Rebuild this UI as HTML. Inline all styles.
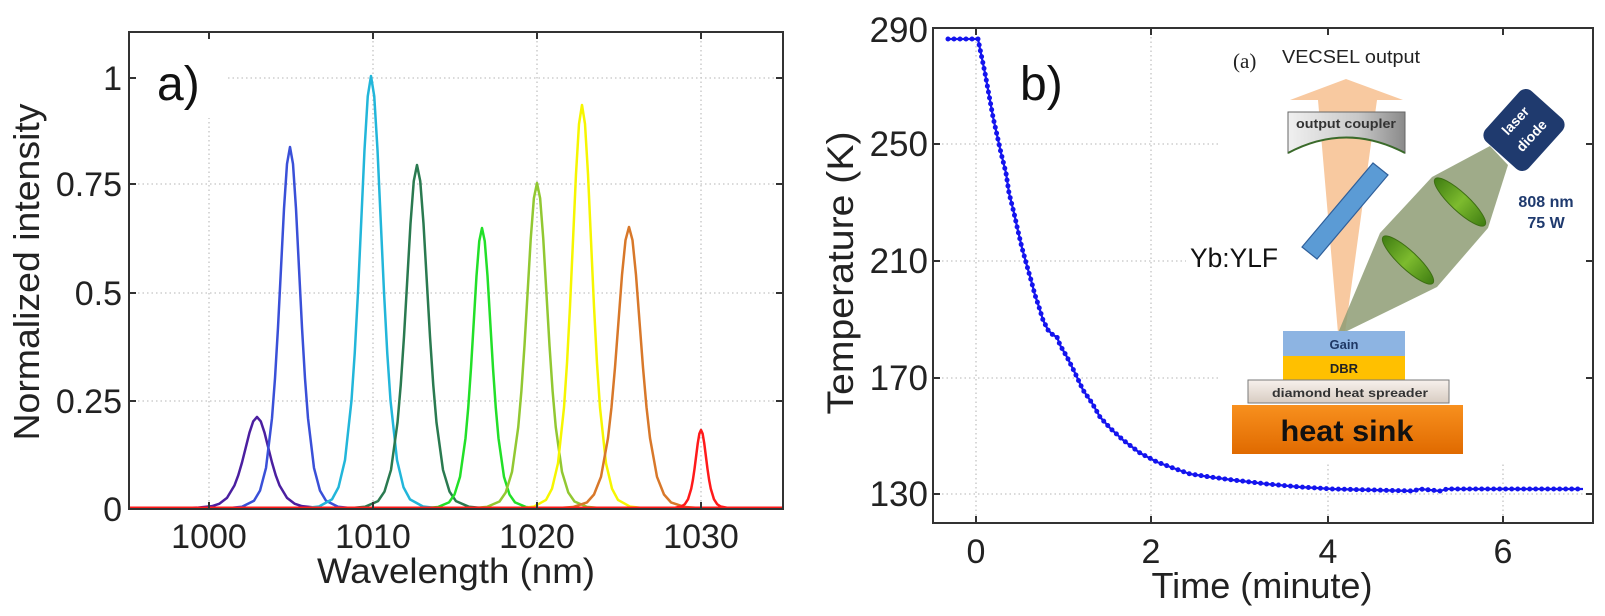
<!DOCTYPE html>
<html><head><meta charset="utf-8"><style>
html,body{margin:0;padding:0;background:#fff;}
svg{display:block;font-family:"Liberation Sans",Arial,sans-serif;}
</style></head><body>
<svg width="1605" height="616" viewBox="0 0 1605 616" xmlns="http://www.w3.org/2000/svg">
<defs>
<linearGradient id="oc" x1="0" y1="0" x2="1" y2="0"><stop offset="0" stop-color="#f0f0f0"/><stop offset="0.6" stop-color="#c8c8c8"/><stop offset="1" stop-color="#8a8a8a"/></linearGradient>
<linearGradient id="hs" x1="0" y1="0" x2="0" y2="1"><stop offset="0" stop-color="#f8901e"/><stop offset="1" stop-color="#e06a00"/></linearGradient>
<linearGradient id="ds" x1="0" y1="0" x2="0" y2="1"><stop offset="0" stop-color="#f7f1ec"/><stop offset="1" stop-color="#d8ccc2"/></linearGradient>
<linearGradient id="ln" x1="0" y1="0" x2="1" y2="0"><stop offset="0" stop-color="#3f7d12"/><stop offset="0.5" stop-color="#7dbb2e"/><stop offset="1" stop-color="#3f7d12"/></linearGradient>
</defs>
<rect width="1605" height="616" fill="#fff"/>

<!-- ===== LEFT PLOT ===== -->
<g stroke="#c4c4c4" stroke-width="1.3" stroke-dasharray="1.5 3" fill="none">
<line x1="209" y1="32" x2="209" y2="509"/><line x1="373" y1="32" x2="373" y2="509"/>
<line x1="537" y1="32" x2="537" y2="509"/><line x1="701" y1="32" x2="701" y2="509"/>
<line x1="129" y1="401" x2="783" y2="401"/><line x1="129" y1="293" x2="783" y2="293"/>
<line x1="129" y1="184" x2="783" y2="184"/><line x1="129" y1="78" x2="783" y2="78"/>
</g>
<rect x="131" y="34" width="97" height="84" fill="#fff"/>
<text x="157" y="100" font-size="48" fill="#111">a)</text>

<g fill="none" stroke-width="2.5" stroke-linejoin="round">
<g transform="translate(257,508) scale(15,-91)"><path vector-effect="non-scaling-stroke" stroke="#4b1fa0" d="M-5,0 L-4,.0035 -3,.02 -2.5,.048 -2,.111 -1.5,.249 -1.25,.359 -1,.5 -.75,.664 -.5,.829 -.25,.953 0,1 .25,.953 .5,.829 .75,.664 1,.5 1.25,.359 1.5,.249 2,.111 2.5,.048 3,.02 4,.0035 5,0"/></g>
<g transform="translate(290,508) scale(12,-361)"><path vector-effect="non-scaling-stroke" stroke="#3a50d8" d="M-5,0 L-4,.0035 -3,.02 -2.5,.048 -2,.111 -1.5,.249 -1.25,.359 -1,.5 -.75,.664 -.5,.829 -.25,.953 0,1 .25,.953 .5,.829 .75,.664 1,.5 1.25,.359 1.5,.249 2,.111 2.5,.048 3,.02 4,.0035 5,0"/></g>
<g transform="translate(371,508) scale(13,-432)"><path vector-effect="non-scaling-stroke" stroke="#22b6da" d="M-5,0 L-4,.0035 -3,.02 -2.5,.048 -2,.111 -1.5,.249 -1.25,.359 -1,.5 -.75,.664 -.5,.829 -.25,.953 0,1 .25,.953 .5,.829 .75,.664 1,.5 1.25,.359 1.5,.249 2,.111 2.5,.048 3,.02 4,.0035 5,0"/></g>
<g transform="translate(417,508) scale(13,-343)"><path vector-effect="non-scaling-stroke" stroke="#2a7a50" d="M-5,0 L-4,.0035 -3,.02 -2.5,.048 -2,.111 -1.5,.249 -1.25,.359 -1,.5 -.75,.664 -.5,.829 -.25,.953 0,1 .25,.953 .5,.829 .75,.664 1,.5 1.25,.359 1.5,.249 2,.111 2.5,.048 3,.02 4,.0035 5,0"/></g>
<g transform="translate(482,508) scale(11,-280)"><path vector-effect="non-scaling-stroke" stroke="#22e028" d="M-5,0 L-4,.0035 -3,.02 -2.5,.048 -2,.111 -1.5,.249 -1.25,.359 -1,.5 -.75,.664 -.5,.829 -.25,.953 0,1 .25,.953 .5,.829 .75,.664 1,.5 1.25,.359 1.5,.249 2,.111 2.5,.048 3,.02 4,.0035 5,0"/></g>
<g transform="translate(537,508) scale(12.5,-325)"><path vector-effect="non-scaling-stroke" stroke="#92c832" d="M-5,0 L-4,.0035 -3,.02 -2.5,.048 -2,.111 -1.5,.249 -1.25,.359 -1,.5 -.75,.664 -.5,.829 -.25,.953 0,1 .25,.953 .5,.829 .75,.664 1,.5 1.25,.359 1.5,.249 2,.111 2.5,.048 3,.02 4,.0035 5,0"/></g>
<g transform="translate(582,508) scale(12,-403)"><path vector-effect="non-scaling-stroke" stroke="#f6f600" d="M-5,0 L-4,.0035 -3,.02 -2.5,.048 -2,.111 -1.5,.249 -1.25,.359 -1,.5 -.75,.664 -.5,.829 -.25,.953 0,1 .25,.953 .5,.829 .75,.664 1,.5 1.25,.359 1.5,.249 2,.111 2.5,.048 3,.02 4,.0035 5,0"/></g>
<g transform="translate(629,508) scale(14,-281)"><path vector-effect="non-scaling-stroke" stroke="#d8782a" d="M-5,0 L-4,.0035 -3,.02 -2.5,.048 -2,.111 -1.5,.249 -1.25,.359 -1,.5 -.75,.664 -.5,.829 -.25,.953 0,1 .25,.953 .5,.829 .75,.664 1,.5 1.25,.359 1.5,.249 2,.111 2.5,.048 3,.02 4,.0035 5,0"/></g>
<line x1="130" y1="508" x2="782" y2="508" stroke="#ff1a1a" stroke-width="3"/>
<g transform="translate(701,508) scale(6.5,-78)"><path vector-effect="non-scaling-stroke" stroke="#ff1a1a" d="M-5,0 L-4,.0035 -3,.02 -2.5,.048 -2,.111 -1.5,.249 -1.25,.359 -1,.5 -.75,.664 -.5,.829 -.25,.953 0,1 .25,.953 .5,.829 .75,.664 1,.5 1.25,.359 1.5,.249 2,.111 2.5,.048 3,.02 4,.0035 5,0"/></g>
</g>

<rect x="129" y="32" width="654" height="477" fill="none" stroke="#333" stroke-width="2"/>
<g stroke="#333" stroke-width="2">
<line x1="209" y1="509" x2="209" y2="502"/><line x1="373" y1="509" x2="373" y2="502"/><line x1="537" y1="509" x2="537" y2="502"/><line x1="701" y1="509" x2="701" y2="502"/>
<line x1="209" y1="32" x2="209" y2="39"/><line x1="373" y1="32" x2="373" y2="39"/><line x1="537" y1="32" x2="537" y2="39"/><line x1="701" y1="32" x2="701" y2="39"/>
<line x1="129" y1="401" x2="136" y2="401"/><line x1="129" y1="293" x2="136" y2="293"/><line x1="129" y1="184" x2="136" y2="184"/><line x1="129" y1="78" x2="136" y2="78"/>
<line x1="783" y1="401" x2="776" y2="401"/><line x1="783" y1="293" x2="776" y2="293"/><line x1="783" y1="184" x2="776" y2="184"/><line x1="783" y1="78" x2="776" y2="78"/>
</g>
<g font-size="34" fill="#222" text-anchor="end">
<text x="122" y="90">1</text><text x="122" y="196">0.75</text><text x="122" y="305">0.5</text><text x="122" y="413">0.25</text><text x="122" y="521">0</text>
</g>
<g font-size="34" fill="#222" text-anchor="middle">
<text x="209" y="548">1000</text><text x="373" y="548">1010</text><text x="537" y="548">1020</text><text x="701" y="548">1030</text>
</g>
<text x="456" y="583" font-size="35" fill="#222" text-anchor="middle" textLength="278" lengthAdjust="spacingAndGlyphs">Wavelength (nm)</text>
<text transform="translate(39,272) rotate(-90)" x="0" y="0" font-size="36" fill="#222" text-anchor="middle" textLength="337" lengthAdjust="spacingAndGlyphs">Normalized intensity</text>

<!-- ===== RIGHT PLOT ===== -->
<g stroke="#c4c4c4" stroke-width="1.3" stroke-dasharray="1.5 3" fill="none">
<line x1="976" y1="28" x2="976" y2="523"/><line x1="1151" y1="28" x2="1151" y2="523"/>
<line x1="1328" y1="28" x2="1328" y2="523"/><line x1="1503" y1="28" x2="1503" y2="523"/>
<line x1="933" y1="494" x2="1593" y2="494"/><line x1="933" y1="378" x2="1593" y2="378"/>
<line x1="933" y1="261" x2="1593" y2="261"/><line x1="933" y1="144" x2="1593" y2="144"/>
</g>

<!-- inset diagram -->
<rect x="1221" y="30" width="370" height="432" fill="#fff"/>
<rect x="1186" y="243" width="40" height="30" fill="#fff"/>
<text x="1233" y="68" font-family="'Liberation Serif',serif" font-size="21" fill="#222">(a)</text>
<text x="1282" y="63" font-size="18" fill="#222" textLength="138" lengthAdjust="spacingAndGlyphs">VECSEL output</text>
<!-- output beam -->
<polygon points="1290,100 1346,79 1403,100 1377,100 1345,333 1338,333 1318,100" fill="#f8c9a0"/>
<!-- pump beam -->
<polygon points="1490,146 1508,165 1488,228 1437,287 1343,333 1338,333 1380,233 1432,177" fill="#8e9c74" fill-opacity="0.85"/>
<ellipse cx="1460" cy="202" rx="34" ry="9" transform="rotate(43 1460 202)" fill="url(#ln)" stroke="#3e6e14" stroke-width="1"/>
<ellipse cx="1408" cy="260" rx="34" ry="9" transform="rotate(43 1408 260)" fill="url(#ln)" stroke="#3e6e14" stroke-width="1"/>
<!-- output coupler -->
<path d="M1288,112 H1405 V153 Q1346,122 1288,153 Z" fill="url(#oc)" stroke="#666" stroke-width="1"/>
<path d="M1288,153 Q1346,122 1405,153" fill="none" stroke="#3a6a2a" stroke-width="2"/>
<text x="1346" y="128" font-size="13" font-weight="bold" fill="#333" text-anchor="middle" textLength="100" lengthAdjust="spacingAndGlyphs">output coupler</text>
<!-- crystal -->
<polygon points="1373,163 1388,175 1317,259 1302,247" fill="#5b9bd5" stroke="#2f5f9a" stroke-width="1.2"/>
<text x="1190" y="267" font-size="27" fill="#111" textLength="88" lengthAdjust="spacingAndGlyphs">Yb:YLF</text>
<!-- laser diode -->
<rect x="-29" y="-34" width="58" height="68" rx="9" transform="translate(1524,130) rotate(42)" fill="#1f3a6e"/>
<text transform="translate(1519,124) rotate(-47)" font-size="14" font-weight="bold" fill="#fff" text-anchor="middle">laser</text>
<text transform="translate(1535,139) rotate(-47)" font-size="14" font-weight="bold" fill="#fff" text-anchor="middle">diode</text>
<text x="1546" y="207" font-size="16" font-weight="bold" fill="#1f3a6e" text-anchor="middle">808 nm</text>
<text x="1546" y="228" font-size="16" font-weight="bold" fill="#1f3a6e" text-anchor="middle">75 W</text>
<!-- layers -->
<rect x="1283" y="331" width="122" height="25" fill="#8db4e2"/>
<text x="1344" y="349" font-size="13" font-weight="bold" fill="#1f3864" text-anchor="middle">Gain</text>
<rect x="1283" y="356" width="122" height="24" fill="#ffc000"/>
<text x="1344" y="373" font-size="13" font-weight="bold" fill="#222" text-anchor="middle">DBR</text>
<rect x="1248" y="380" width="201" height="23" fill="url(#ds)" stroke="#7a7a7a" stroke-width="1"/>
<text x="1350" y="397" font-size="12" font-weight="bold" fill="#333" text-anchor="middle" textLength="156" lengthAdjust="spacingAndGlyphs">diamond heat spreader</text>
<rect x="1232" y="405" width="231" height="49" fill="url(#hs)"/>
<text x="1347" y="441" font-size="30" font-weight="bold" fill="#111" text-anchor="middle" textLength="133" lengthAdjust="spacingAndGlyphs">heat sink</text>

<!-- data curve -->
<g fill="none" stroke="#1414ee" stroke-linejoin="round">
<path stroke-width="2.2" d="M948,39 L978,39 980,49 985,73 989,95 993,117 997,135 1001,153 1006,173 1009,193 1014,213 1018,231 1022,248 1027,266 1031,280 1035,295 1039,307 1043,320 1048,330 1053,335 1057,337 1060,345 1067,357 1075,373 1083,390 1092,403 1100,417 1110,428 1123,440 1140,453 1157,462 1173,468 1190,474 1210,477 1233,480 1267,484 1300,487 1333,489 1413,491 1420,489 1440,491 1447,489 1583,489"/>
<path stroke-width="5" stroke-linecap="round" stroke-dasharray="0 6" d="M948,39 L978,39 980,49 985,73 989,95 993,117 997,135 1001,153 1006,173 1009,193 1014,213 1018,231 1022,248 1027,266 1031,280 1035,295 1039,307 1043,320 1048,330 1053,335 1057,337 1060,345 1067,357 1075,373 1083,390 1092,403 1100,417 1110,428 1123,440 1140,453 1157,462 1173,468 1190,474 1210,477 1233,480 1267,484 1300,487 1333,489 1413,491 1420,489 1440,491 1447,489 1583,489"/>
</g>
<text x="1020" y="100" font-size="48" fill="#111">b)</text>

<rect x="933" y="28" width="660" height="495" fill="none" stroke="#333" stroke-width="2"/>
<g stroke="#333" stroke-width="2">
<line x1="976" y1="523" x2="976" y2="516"/><line x1="1151" y1="523" x2="1151" y2="516"/><line x1="1328" y1="523" x2="1328" y2="516"/><line x1="1503" y1="523" x2="1503" y2="516"/>
<line x1="976" y1="28" x2="976" y2="35"/><line x1="1151" y1="28" x2="1151" y2="35"/><line x1="1328" y1="28" x2="1328" y2="35"/><line x1="1503" y1="28" x2="1503" y2="35"/>
<line x1="933" y1="494" x2="940" y2="494"/><line x1="933" y1="378" x2="940" y2="378"/><line x1="933" y1="261" x2="940" y2="261"/><line x1="933" y1="144" x2="940" y2="144"/>
<line x1="1593" y1="494" x2="1586" y2="494"/><line x1="1593" y1="378" x2="1586" y2="378"/><line x1="1593" y1="261" x2="1586" y2="261"/><line x1="1593" y1="144" x2="1586" y2="144"/>
</g>
<g font-size="35" fill="#222" text-anchor="end">
<text x="928" y="42">290</text><text x="928" y="156">250</text><text x="928" y="273">210</text><text x="928" y="390">170</text><text x="928" y="506">130</text>
</g>
<g font-size="34" fill="#222" text-anchor="middle">
<text x="976" y="563">0</text><text x="1151" y="563">2</text><text x="1328" y="563">4</text><text x="1503" y="563">6</text>
</g>
<text x="1262" y="598" font-size="36" fill="#222" text-anchor="middle" textLength="221" lengthAdjust="spacingAndGlyphs">Time (minute)</text>
<text transform="translate(853,273) rotate(-90)" x="0" y="0" font-size="37" fill="#222" text-anchor="middle" textLength="283" lengthAdjust="spacingAndGlyphs">Temperature (K)</text>
</svg>
</body></html>
